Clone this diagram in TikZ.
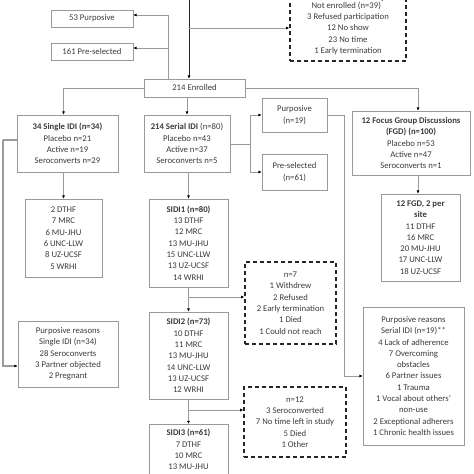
\documentclass[tikz,border=0pt]{standalone}
\usepackage{fontspec}
\setmainfont{Carlito}
\usetikzlibrary{arrows.meta}
\definecolor{txt}{HTML}{3A3A3A}
\definecolor{lin}{HTML}{9A9A9A}
\tikzset{
  box/.style={draw=lin, line width=0.7pt, inner sep=1pt, align=center, text=txt,
    font=\fontsize{8.7pt}{11.3pt}\selectfont},
  dbox/.style={box, draw=black!85, line width=1.3pt, dash pattern=on 4pt off 3pt},
  conn/.style={draw=lin, line width=0.7pt, -{Latex[length=3.2pt,width=3pt]}, arrows={[color=black]}},
  plainconn/.style={draw=lin, line width=0.7pt},
}
\begin{document}
\begin{tikzpicture}[x=1pt,y=-1pt]
\useasboundingbox (0,0) rectangle (474,474);
\clip (0,0) rectangle (474,474);
% nodes
\node[box, minimum width=82, minimum height=17] (p53) at (92,18.5) {53 Purposive};
\node[box, minimum width=82, minimum height=17] (p161) at (92,51.5) {161 Pre-selected};
\node[dbox, minimum width=116, minimum height=67] (notenr) at (348,27.5) {Not enrolled (n=39)\textsuperscript{*}\\3 Refused participation\\12 No show\\23 No time\\1 Early termination};
\node[box, minimum width=101, minimum height=18] (enrolled) at (194.5,88) {214 Enrolled};
\node[box, minimum width=101, minimum height=57] (single) at (67.5,143.5) {\textbf{34 Single IDI (n=34)}\\Placebo n=21\\Active n=19\\Seroconverts n=29};
\node[box, minimum width=86, minimum height=57] (serial) at (187,143.5) {\textbf{214 Serial IDI} (n=80)\\Placebo n=43\\Active n=37\\Seroconverts n=5};
\node[box, minimum width=65, minimum height=34] (purp19) at (294.5,115) {Purposive\\(n=19)};
\node[box, minimum width=65, minimum height=36] (pre61) at (294.5,172) {Pre-selected\\(n=61)};
\node[box, minimum width=118, minimum height=64] (fgd) at (411,143) {\textbf{12 Focus Group Discussions}\\\textbf{(FGD) (n=100)}\\Placebo n=53\\Active n=47\\Seroconverts n=1};
\node[box, minimum width=79, minimum height=87] (fgd12) at (420.5,237.5) {\textbf{12 FGD, 2 per}\\\textbf{site}\\11 DTHF\\16 MRC\\20 MU-JHU\\17 UNC-LLW\\18 UZ-UCSF};
\node[box, minimum width=77, minimum height=78] (dthf) at (63.5,238) {2 DTHF\\7 MRC\\6 MU-JHU\\6 UNC-LLW\\8 UZ-UCSF\\5 WRHI};
\node[box, minimum width=100, minimum height=66] (preasonS) at (68,354) {Purposive reasons\\Single IDI (n=34)\\28 Seroconverts\\3 Partner objected\\2 Pregnant};
\node[box, minimum width=79, minimum height=88] (sidi1) at (188.5,243) {\textbf{SIDI1 (n=80)}\\13 DTHF\\12 MRC\\13 MU-JHU\\15 UNC-LLW\\13 UZ-UCSF\\14 WRHI};
\node[box, minimum width=79, minimum height=87] (sidi2) at (188.5,355.5) {\textbf{SIDI2 (n=73)}\\10 DTHF\\11 MRC\\13 MU-JHU\\14 UNC-LLW\\13 UZ-UCSF\\12 WRHI};
\node[box, minimum width=79, anchor=north, inner ysep=5pt, text depth=40pt] (sidi3) at (188.5,424) {\textbf{SIDI3 (n=61)}\\7 DTHF\\10 MRC\\13 MU-JHU};
\node[dbox, minimum width=91, minimum height=82] (n7) at (290.5,303) {n=7\\1 Withdrew\\2 Refused\\2 Early termination\\1 Died\\1 Could not reach};
\node[dbox, minimum width=102, minimum height=70] (n12) at (295,422) {n=12\\3 Seroconverted\\7 No time left in study\\5 Died\\1 Other};
\node[box, minimum width=101, minimum height=138] (preasonSer) at (413.5,376) {Purposive reasons\\Serial IDI (n=19)**\\4 Lack of adherence\\7 Overcoming\\obstacles\\6 Partner issues\\1 Trauma\\1 Vocal about others'\\non-use\\2 Exceptional adherers\\1 Chronic health issues};
% coordinates
\coordinate (top) at (189,-2);
\coordinate (b1) at (189,28);
\coordinate (e1) at (168,79);
\coordinate (e1a) at (168,15);
\coordinate (e1b) at (168,48);
\coordinate (s1) at (250,144);
\coordinate (pr) at (344,115);
\coordinate (lx) at (3,140);
\coordinate (k1) at (188.5,297);
\coordinate (k2) at (188.5,410);
% connectors
\draw[conn, draw=black!85, line width=0.9pt] (top) -- (top |- enrolled.north);
\draw[conn] (b1) -- (b1 -| notenr.west);
\draw[plainconn] (e1) -- (e1a);
\draw[conn] (e1a) -- (e1a -| p53.east);
\draw[conn] (e1b) -- (e1b -| p161.east);
\draw[conn] (enrolled.west) -| ([xshift=-4pt]single.north);
\draw[conn] (enrolled.south -| serial.north) -- (serial.north);
\draw[conn] (enrolled.east) -| ([xshift=7pt]fgd.north);
\draw[plainconn] (serial.east |- s1) -- (s1);
\draw[conn] (s1) |- (purp19.west);
\draw[conn] (s1) |- (pre61.west);
\draw[plainconn] (purp19.east) -- (pr);
\draw[conn] (pr) |- (preasonSer.west);
\draw[conn] ([xshift=7pt]fgd.south) -- ([xshift=7pt]fgd.south |- fgd12.north);
\draw[plainconn, line width=1.1pt] (single.west |- lx) -- (lx);
\draw[conn, line width=1.1pt] (lx) |- ([yshift=-12pt]preasonS.west);
\draw[conn] (dthf.north |- single.south) -- (dthf.north);
\draw[conn] (sidi1.north |- serial.south) -- (sidi1.north);
\draw[conn] (sidi1.south) -- (sidi2.north);
\draw[conn] (k1) -- (k1 -| n7.west);
\draw[conn] (sidi2.south) -- (sidi3.north);
\draw[conn] (k2) -- (k2 -| n12.west);
\end{tikzpicture}
\end{document}
